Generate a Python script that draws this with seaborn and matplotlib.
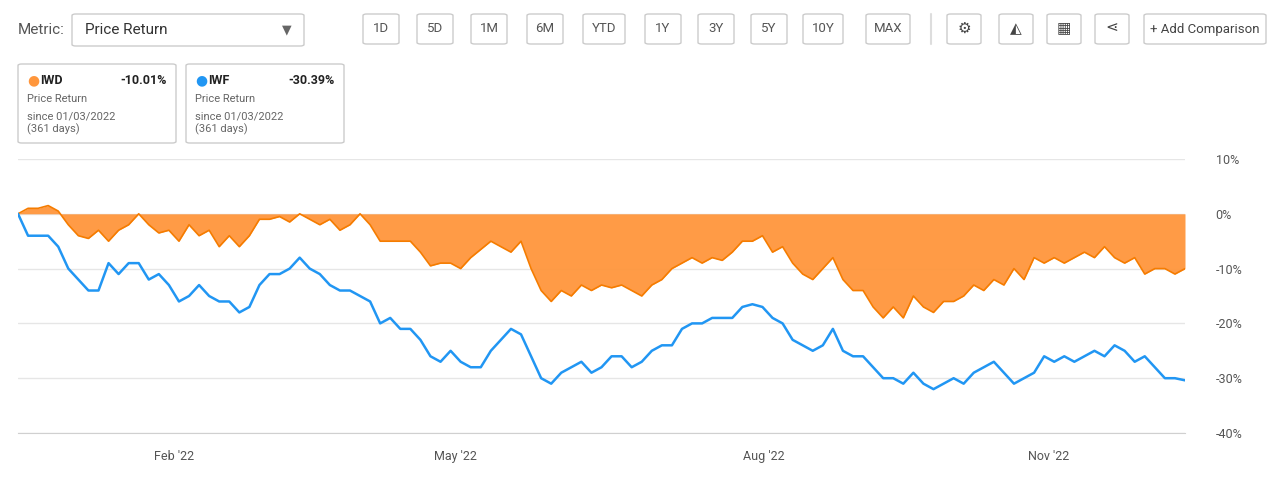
import matplotlib
matplotlib.use("Agg")
import matplotlib.pyplot as plt
import seaborn as sns
import pandas as pd
import numpy as np
from matplotlib.patches import FancyBboxPatch

iwd = [0,1,1,1.5,0.5,-2,-4,-4.5,-3,-5,-3,-2,0,-2,-3.5,-3,-5,-2,-4,-3,-6,-4,-6,-4,-1,-1,-0.5,-1.5,0,-1,-2,-1,-3,-2,0,-2,-5,-5,-5,-5,-7,-9.5,-9,-9,-10,-8,-6.5,-5,-6,-7,-5,-10,-14,-16,-14,-15,-13,-14,-13,-13.5,-13,-14,-15,-13,-12,-10,-9,-8,-9,-8,-8.5,-7,-5,-5,-4,-7,-6,-9,-11,-12,-10,-8,-12,-14,-14,-17,-19,-17,-19,-15,-17,-18,-16,-16,-15,-13,-14,-12,-13,-10,-12,-8,-9,-8,-9,-8,-7,-8,-6,-8,-9,-8,-11,-10,-10,-11,-10.01]
iwf = [0,-4,-4,-4,-6,-10,-12,-14,-14,-9,-11,-9,-9,-12,-11,-13,-16,-15,-13,-15,-16,-16,-18,-17,-13,-11,-11,-10,-8,-10,-11,-13,-14,-14,-15,-16,-20,-19,-21,-21,-23,-26,-27,-25,-27,-28,-28,-25,-23,-21,-22,-26,-30,-31,-29,-28,-27,-29,-28,-26,-26,-28,-27,-25,-24,-24,-21,-20,-20,-19,-19,-19,-17,-16.5,-17,-19,-20,-23,-24,-25,-24,-21,-25,-26,-26,-28,-30,-30,-31,-29,-31,-32,-31,-30,-31,-29,-28,-27,-29,-31,-30,-29,-26,-27,-26,-27,-26,-25,-26,-24,-25,-27,-26,-28,-30,-30,-30.39]
dates = pd.date_range("2022-01-03", "2022-12-29", periods=len(iwd))
tick_dates = pd.to_datetime(["2022-02-20", "2022-05-18", "2022-08-21", "2022-11-17"])
tick_labels = ["Feb '22", "May '22", "Aug '22", "Nov '22"]
yticks = [10, 0, -10, -20, -30, -40]

df = pd.DataFrame({"date": dates, "IWD": iwd, "IWF": iwf})
orange, blue = "#ff963c", "#2196f3"

sns.set_style("white")
plt.rcParams['font.family'] = ['Roboto', 'DejaVu Sans']
fig = plt.figure(figsize=(12.8, 4.83), dpi=100)
ax = fig.add_axes([18/1280, 50/483, 1167/1280, 274/483])
ax.fill_between(df["date"], df["IWD"], 0, color=orange, alpha=0.95, lw=0)
sns.lineplot(data=df, x="date", y="IWD", ax=ax, color="#f57c00", lw=1.2)
sns.lineplot(data=df, x="date", y="IWF", ax=ax, color=blue, lw=1.8)
ax.set_xlim(dates[0], dates[-1])
ax.set_ylim(-40, 10)
ax.set_yticks(yticks)
ax.yaxis.tick_right()
ax.set_yticklabels([f"{v}%" for v in yticks], fontsize=9, color="#555")
ax.set_xticks(tick_dates)
ax.set_xticklabels(tick_labels, fontsize=9, color="#555")
ax.tick_params(axis="both", length=0, pad=12)
ax.tick_params(axis="y", pad=22)
for v in yticks:
    ax.axhline(v, color="#e6e6e6", lw=1, zorder=0)
for s in ["top", "left", "right"]:
    ax.spines[s].set_visible(False)
ax.spines["bottom"].set_color("#d0d0d0")
ax.set_xlabel(""); ax.set_ylabel("")

def box(x, y, w, h):
    fig.patches.append(FancyBboxPatch((x/1280, 1-(y+h)/483), w/1280, h/483,
        boxstyle="round,pad=0,rounding_size=0.003", transform=fig.transFigure,
        fc="white", ec="#cccccc", lw=1))

def txt(x, y, s, **kw):
    fig.text(x/1280, 1-y/483, s, va="center", **kw)

txt(18, 30, "Metric:", fontsize=11, color="#555")
box(72, 14, 232, 32)
txt(85, 30, "Price Return", fontsize=11, color="#333")
txt(287, 30, "▼", fontsize=9, color="#666", ha="center")
btns = [("1D",363,36),("5D",417,36),("1M",471,36),("6M",527,36),("YTD",583,42),("1Y",645,36),("3Y",698,36),("5Y",751,36),("10Y",803,40),("MAX",866,44)]
for lab, x, w in btns:
    box(x, 14, w, 30)
    txt(x+w/2, 29, lab, fontsize=9.5, color="#555", ha="center")
fig.lines.append(plt.Line2D([931/1280]*2, [1-14/483, 1-44/483], color="#ddd", transform=fig.transFigure))
for x, s in [(947,"⚙"),(999,"◭"),(1047,"▦"),(1095,"⋖")]:
    box(x, 14, 34, 30)
    txt(x+17, 29, s, fontsize=11, color="#444", ha="center")
box(1144, 14, 122, 30)
txt(1205, 29, "+ Add Comparison", fontsize=9.5, color="#444", ha="center")

for x, name, val, col in [(18,"IWD","-10.01%",orange),(186,"IWF","-30.39%",blue)]:
    box(x, 64, 158, 79)
    txt(x+9, 80, "●", fontsize=10, color=col)
    txt(x+22, 80, name, fontsize=9, color="#222", weight="bold")
    txt(x+149, 80, val, fontsize=9, color="#222", weight="bold", ha="right")
    txt(x+9, 99, "Price Return", fontsize=8, color="#666")
    txt(x+9, 116, "since 01/03/2022", fontsize=8, color="#666")
    txt(x+9, 129, "(361 days)", fontsize=8, color="#666")

fig.savefig("out.png", dpi=100)
